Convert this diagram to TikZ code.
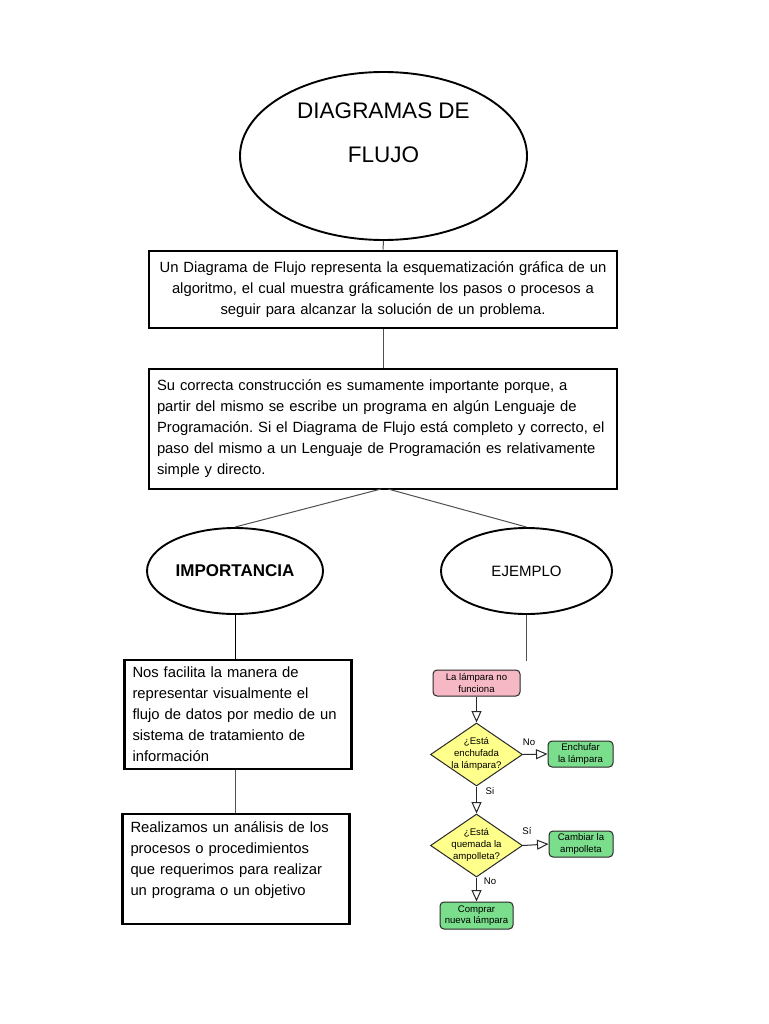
\documentclass[tikz,border=0pt]{standalone}
\usepackage{fontspec}
\setmainfont{Liberation Sans}
\frenchspacing
\usetikzlibrary{shapes.geometric,arrows.meta}
\definecolor{pinkfill}{RGB}{246,184,196}
\definecolor{yellowfill}{RGB}{255,255,140}
\definecolor{greenfill}{RGB}{122,222,140}
\definecolor{flowline}{RGB}{40,40,40}
\definecolor{conn}{RGB}{80,80,80}
\tikzset{
  bigbox/.style={draw=black, line width=2.8pt, inner xsep=8pt, inner ysep=4pt, align=left,
     font=\fontsize{14.8}{21}\selectfont},
  oval/.style={draw=black, line width=1.9pt, ellipse, inner sep=0pt},
  connector/.style={draw=conn, line width=1pt},
  flowbox/.style={draw=flowline, line width=1pt, rounded corners=4pt, inner sep=0pt, align=center,
     font=\fontsize{9.6}{11.5}\selectfont},
  flowdiam/.style={draw=flowline, line width=1pt, diamond, fill=yellowfill, inner sep=0pt,
     minimum width=92pt, minimum height=63pt},
  flowtext/.style={align=center, font=\fontsize{9.6}{12}\selectfont, inner sep=0pt},
  flowlabel/.style={font=\fontsize{9.6}{11}\selectfont, inner sep=0pt},
  flowarrow/.style={draw=flowline, line width=1pt, -{Triangle[open, length=11.5pt, width=10pt, line width=1pt]}},
}
\begin{document}
\begin{tikzpicture}[x=1pt, y=-1pt]
\useasboundingbox[fill=white] (0,0) rectangle (768,1024);

% title
\node[oval, minimum width=287pt, minimum height=168pt] (title) at (383.5,156) {};
\node[align=center, font=\fontsize{22.5}{44}\selectfont, inner sep=0pt] (titletext) at (383.5,133) {DIAGRAMAS DE\\FLUJO};

% box 1
\node[bigbox, minimum width=468pt, minimum height=77pt, text width=452pt, align=center] (b1) at (383,289.5)
 {Un Diagrama de Flujo representa la esquematización gráfica de un\\
  algoritmo, el cual muestra gráficamente los pasos o procesos a\\
  seguir para alcanzar la solución de un problema.};

% box 2
\node[bigbox, minimum width=468pt, minimum height=120pt, text width=452pt] (b2) at (383,429)
 {Su correcta construcción es sumamente importante porque, a\\
  partir del mismo se escribe un programa en algún Lenguaje de\\
  Programación. Si el Diagrama de Flujo está completo y correcto, el\\
  paso del mismo a un Lenguaje de Programación es relativamente\\
  simple y directo.};

% ovals
\node[oval, minimum width=176pt, minimum height=86pt, font=\bfseries\fontsize{17}{18}\selectfont] (imp) at (235,571) {IMPORTANCIA};
\node[oval, minimum width=171pt, minimum height=86pt, font=\fontsize{15}{18}\selectfont] (ej) at (526.5,571) {EJEMPLO};

% box 3
\node[bigbox, minimum width=227pt, minimum height=109pt, text width=211pt] (b3) at (238,714.5)
 {Nos facilita la manera de\\
  representar visualmente el\\
  flujo de datos por medio de un\\
  sistema de tratamiento de\\
  información};

% box 4
\node[bigbox, minimum width=227pt, minimum height=110pt, text width=211pt] (b4) at (236,869)
 {Realizamos un análisis de los\\
  procesos o procedimientos\\
  que requerimos para realizar\\
  un programa o un objetivo\\
  \mbox{}};

% connectors
\draw[connector] (title.south) -- (b1.north);
\draw[connector] (b1.south) -- (b2.north);
\coordinate (b2l) at (381,489);
\coordinate (b2r) at (388,489);
\draw[connector] (b2l) -- (imp.north);
\draw[connector] (b2r) -- (ej.north);
\draw[connector, draw=black] (imp.south) -- (imp.south |- b3.north);
\draw[connector] (imp.south |- b3.south) -- (imp.south |- b4.north);
\coordinate (ejend) at (526.5,661);
\draw[connector] (ej.south) -- (ejend);

% flowchart
\node[flowbox, fill=pinkfill, minimum width=87pt, minimum height=26pt] (start) at (476.5,683) {La lámpara no\\funciona};
\node[flowdiam] (d1) at (476.5,754.5) {};
\node[flowtext] (d1t) at (476.5,753.5) {¿Está\\enchufada\\la lámpara?};
\node[flowbox, fill=greenfill, minimum width=65pt, minimum height=26pt] (enc) at (580.5,754) {Enchufar\\la lámpara};
\node[flowdiam] (d2) at (476.5,845.5) {};
\node[flowtext] (d2t) at (476.5,844.5) {¿Está\\quemada la\\ampolleta?};
\node[flowbox, fill=greenfill, minimum width=64pt, minimum height=26pt] (camb) at (581,844) {Cambiar la\\ampolleta};
\node[flowbox, fill=greenfill, minimum width=73pt, minimum height=27pt] (comp) at (476.5,915.5) {Comprar\\nueva lámpara};

\draw[flowarrow] (start.south) -- (d1.north);
\draw[flowarrow] (d1.east) -- (enc.west);
\draw[flowarrow] (d1.south) -- (d2.north);
\draw[flowarrow] (d2.east) -- (camb.west);
\draw[flowarrow] (d2.south) -- (comp.north);

\node[flowlabel] (lno1) at (529,742) {No};
\node[flowlabel] (lsi1) at (490,791) {Si};
\node[flowlabel] (lsi2) at (527,831) {Sí};
\node[flowlabel] (lno2) at (490,881) {No};
\end{tikzpicture}
\end{document}
